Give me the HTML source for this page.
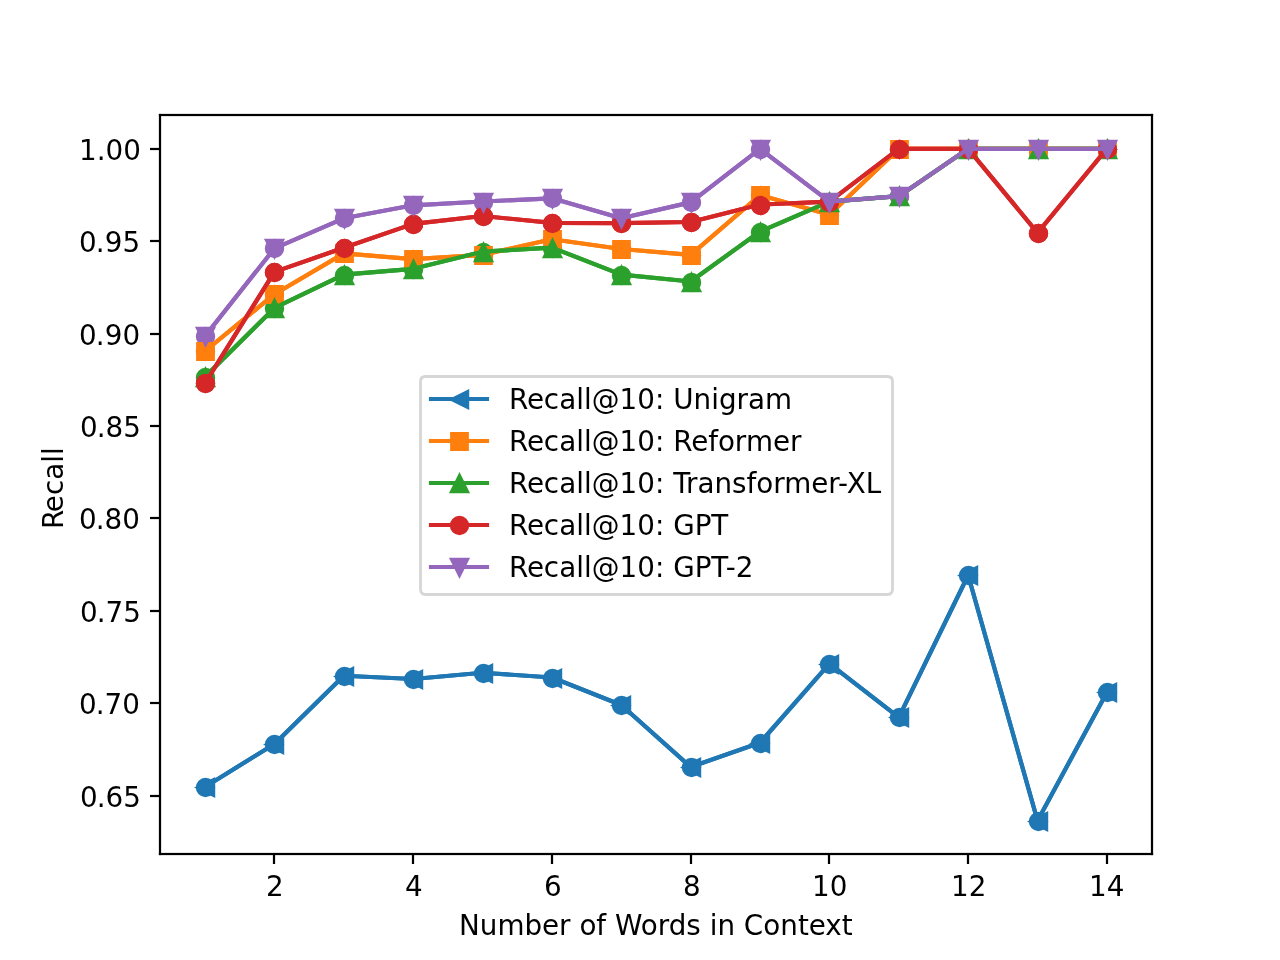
<!DOCTYPE html>
<html><head><meta charset="utf-8"><title>Recall vs Number of Words in Context</title>
<style>html,body{margin:0;padding:0;background:#fff;width:1280px;height:960px;overflow:hidden}svg{display:block}
svg text{font-family:"DejaVu Sans",sans-serif}</style></head>
<body>
<svg width="1280" height="960" viewBox="0 0 1280 960" version="1.1">
 
 <defs>
  <style type="text/css">*{stroke-linejoin: round; stroke-linecap: butt}</style>
 </defs>
 <g id="figure_1">
  <g id="patch_1">
   <path d="M 0 960 
L 1280 960 
L 1280 0 
L 0 0 
z
" style="fill: #ffffff"/>
  </g>
  <g id="axes_1">
   <g id="patch_2">
    <path d="M 160 854.4 
L 1152 854.4 
L 1152 115.2 
L 160 115.2 
z
" style="fill: #ffffff"/>
   </g>
   <g id="matplotlib.axis_1">
    <g id="xtick_1">
     <g id="line2d_1">
      <defs>
       <path id="mda93891a16" d="M 0 0 
L 0 10 
" style="stroke: #000000; stroke-width: 2.222222"/>
      </defs>
      <g>
       <use xlink:href="#mda93891a16" x="274" y="854" style="stroke: #000000; stroke-width: 2.222222"/>
      </g>
     </g>
     <g id="text_1">
      <text style="font-size: 27.777778px; font-family: 'DejaVu Sans', sans-serif; text-anchor: start" x="265.915" y="895.561" transform="rotate(-0 274.751 895.561)">2</text>
     </g>
    </g>
    <g id="xtick_2">
     <g id="line2d_2">
      <g>
       <use xlink:href="#mda93891a16" x="413" y="854" style="stroke: #000000; stroke-width: 2.222222"/>
      </g>
     </g>
     <g id="text_2">
      <text style="font-size: 27.777778px; font-family: 'DejaVu Sans', sans-serif; text-anchor: start" x="404.952" y="895.647" transform="rotate(-0 413.788 895.647)">4</text>
     </g>
    </g>
    <g id="xtick_3">
     <g id="line2d_3">
      <g>
       <use xlink:href="#mda93891a16" x="552" y="854" style="stroke: #000000; stroke-width: 2.222222"/>
      </g>
     </g>
     <g id="text_3">
      <text style="font-size: 27.777778px; font-family: 'DejaVu Sans', sans-serif; text-anchor: start" x="544.113" y="895.673" transform="rotate(-0 552.949 895.673)">6</text>
     </g>
    </g>
    <g id="xtick_4">
     <g id="line2d_4">
      <g>
       <use xlink:href="#mda93891a16" x="691" y="854" style="stroke: #000000; stroke-width: 2.222222"/>
      </g>
     </g>
     <g id="text_4">
      <text style="font-size: 27.777778px; font-family: 'DejaVu Sans', sans-serif; text-anchor: start" x="683.020" y="895.707" transform="rotate(-0 691.856 895.707)">8</text>
     </g>
    </g>
    <g id="xtick_5">
     <g id="line2d_5">
      <g>
       <use xlink:href="#mda93891a16" x="829" y="854" style="stroke: #000000; stroke-width: 2.222222"/>
      </g>
     </g>
     <g id="text_5">
      <text style="font-size: 27.777778px; font-family: 'DejaVu Sans', sans-serif; text-anchor: start" x="812.071 829.696" y="895.655" transform="rotate(-0 829.743 895.655)">10</text>
     </g>
    </g>
    <g id="xtick_6">
     <g id="line2d_6">
      <g>
       <use xlink:href="#mda93891a16" x="968" y="854" style="stroke: #000000; stroke-width: 2.222222"/>
      </g>
     </g>
     <g id="text_6">
      <text style="font-size: 27.777778px; font-family: 'DejaVu Sans', sans-serif; text-anchor: start" x="951.042 968.667" y="895.718" transform="rotate(-0 968.714 895.718)">12</text>
     </g>
    </g>
    <g id="xtick_7">
     <g id="line2d_7">
      <g>
       <use xlink:href="#mda93891a16" x="1107" y="854" style="stroke: #000000; stroke-width: 2.222222"/>
      </g>
     </g>
     <g id="text_7">
      <text style="font-size: 27.777778px; font-family: 'DejaVu Sans', sans-serif; text-anchor: start" x="1088.930 1106.805" y="895.632" transform="rotate(-0 1106.602 895.632)">14</text>
     </g>
    </g>
    <g id="text_8">
     <text style="font-size: 27.777778px; font-family: 'DejaVu Sans', sans-serif; text-anchor: start" x="458.939 479.689 497.564 524.439 542.064 559.064 570.564 579.439 596.314 606.064 614.939 640.814 657.689 668.689 686.314 700.814 709.689 717.439 735.064 743.689 763.314 780.189 798.064 808.689 825.189 841.814" y="934.707" transform="rotate(-0 655.705 934.707)">Number of Words in Context</text>
    </g>
   </g>
   <g id="matplotlib.axis_2">
    <g id="ytick_1">
     <g id="line2d_8">
      <defs>
       <path id="mc748a476c6" d="M 0 0 
L -10 0 
" style="stroke: #000000; stroke-width: 2.222222"/>
      </defs>
      <g>
       <use xlink:href="#mc748a476c6" x="160" y="796" style="stroke: #000000; stroke-width: 2.222222"/>
      </g>
     </g>
     <g id="text_9">
      <text style="font-size: 27.777778px; font-family: 'DejaVu Sans', sans-serif; text-anchor: start" x="79.900 96.650 105.525 123.150" y="806.744" transform="rotate(-0 141.228 806.494)">0.65</text>
     </g>
    </g>
    <g id="ytick_2">
     <g id="line2d_9">
      <g>
       <use xlink:href="#mc748a476c6" x="160" y="703" style="stroke: #000000; stroke-width: 2.222222"/>
      </g>
     </g>
     <g id="text_10">
      <text style="font-size: 27.777778px; font-family: 'DejaVu Sans', sans-serif; text-anchor: start" x="79.100 95.850 104.475 122.350" y="713.621" transform="rotate(-0 140.428 713.371)">0.70</text>
     </g>
    </g>
    <g id="ytick_3">
     <g id="line2d_10">
      <g>
       <use xlink:href="#mc748a476c6" x="160" y="611" style="stroke: #000000; stroke-width: 2.222222"/>
      </g>
     </g>
     <g id="text_11">
      <text style="font-size: 27.777778px; font-family: 'DejaVu Sans', sans-serif; text-anchor: start" x="80.123 96.873 105.498 123.373" y="621.512" transform="rotate(-0 141.451 621.512)">0.75</text>
     </g>
    </g>
    <g id="ytick_4">
     <g id="line2d_11">
      <g>
       <use xlink:href="#mc748a476c6" x="160" y="518" style="stroke: #000000; stroke-width: 2.222222"/>
      </g>
     </g>
     <g id="text_12">
      <text style="font-size: 27.777778px; font-family: 'DejaVu Sans', sans-serif; text-anchor: start" x="78.917 95.667 104.542 122.167" y="528.628" transform="rotate(-0 140.245 529.628)">0.80</text>
     </g>
    </g>
    <g id="ytick_5">
     <g id="line2d_12">
      <g>
       <use xlink:href="#mc748a476c6" x="160" y="426" style="stroke: #000000; stroke-width: 2.222222"/>
      </g>
     </g>
     <g id="text_13">
      <text style="font-size: 27.777778px; font-family: 'DejaVu Sans', sans-serif; text-anchor: start" x="79.932 96.682 105.557 123.182" y="436.548" transform="rotate(-0 141.260 436.548)">0.85</text>
     </g>
    </g>
    <g id="ytick_6">
     <g id="line2d_13">
      <g>
       <use xlink:href="#mc748a476c6" x="160" y="334" style="stroke: #000000; stroke-width: 2.222222"/>
      </g>
     </g>
     <g id="text_14">
      <text style="font-size: 27.777778px; font-family: 'DejaVu Sans', sans-serif; text-anchor: start" x="78.923 95.673 104.798 122.548" y="344.642" transform="rotate(-0 140.251 344.642)">0.90</text>
     </g>
    </g>
    <g id="ytick_7">
     <g id="line2d_14">
      <g>
       <use xlink:href="#mc748a476c6" x="160" y="241" style="stroke: #000000; stroke-width: 2.222222"/>
      </g>
     </g>
     <g id="text_15">
      <text style="font-size: 27.777778px; font-family: 'DejaVu Sans', sans-serif; text-anchor: start" x="78.973 95.723 104.848 122.598" y="251.544" transform="rotate(-0 140.301 251.544)">0.95</text>
     </g>
    </g>
    <g id="ytick_8">
     <g id="line2d_15">
      <g>
       <use xlink:href="#mc748a476c6" x="160" y="149" style="stroke: #000000; stroke-width: 2.222222"/>
      </g>
     </g>
     <g id="text_16">
      <text style="font-size: 27.777778px; font-family: 'DejaVu Sans', sans-serif; text-anchor: start" x="78.884 96.759 105.384 123.134" y="159.671" transform="rotate(-0 140.962 159.671)">1.00</text>
     </g>
    </g>
    <g id="text_17">
     <text style="font-size: 27.777778px; font-family: 'DejaVu Sans', sans-serif; text-anchor: start" x="22.089 38.839 56.089 71.339 88.339 96.089" y="488.473" transform="rotate(-90 62.511 488.473)">Recall</text>
    </g>
   </g>
   <g id="line2d_16">
    <path d="M 205.090909 786.9 
L 274.461538 743.9 
L 343.832168 675.75 
L 413.202797 679 
L 482.573427 672.75 
L 551.944056 677.5 
L 621.314685 705 
L 690.685315 767 
L 760.055944 742.75 
L 829.426573 663.6 
L 898.797203 717.415385 
L 968.167832 575.261538 
L 1037.538462 820.8 
L 1106.909091 692.329412 
" clip-path="url(#p3867d2c798)" style="fill: none; stroke: #1f77b4; stroke-width: 4.166667; stroke-linecap: square"/>
    <defs>
     <path id="m4bd4dce7f5" d="M 0 8.333333 
C 2.210026 8.333333 4.329832 7.455281 5.892557 5.892557 
C 7.455281 4.329832 8.333333 2.210026 8.333333 0 
C 8.333333 -2.210026 7.455281 -4.329832 5.892557 -5.892557 
C 4.329832 -7.455281 2.210026 -8.333333 0 -8.333333 
C -2.210026 -8.333333 -4.329832 -7.455281 -5.892557 -5.892557 
C -7.455281 -4.329832 -8.333333 -2.210026 -8.333333 0 
C -8.333333 2.210026 -7.455281 4.329832 -5.892557 5.892557 
C -4.329832 7.455281 -2.210026 8.333333 0 8.333333 
z
" style="stroke: #1f77b4; stroke-width: 2.777778"/>
    </defs>
    <g clip-path="url(#p3867d2c798)">
     <use xlink:href="#m4bd4dce7f5" x="205.5" y="787.5" style="fill: #1f77b4; stroke: #1f77b4; stroke-width: 2.777778"/>
     <use xlink:href="#m4bd4dce7f5" x="274.5" y="744.5" style="fill: #1f77b4; stroke: #1f77b4; stroke-width: 2.777778"/>
     <use xlink:href="#m4bd4dce7f5" x="344.5" y="676.5" style="fill: #1f77b4; stroke: #1f77b4; stroke-width: 2.777778"/>
     <use xlink:href="#m4bd4dce7f5" x="413.5" y="679.5" style="fill: #1f77b4; stroke: #1f77b4; stroke-width: 2.777778"/>
     <use xlink:href="#m4bd4dce7f5" x="483.5" y="673.5" style="fill: #1f77b4; stroke: #1f77b4; stroke-width: 2.777778"/>
     <use xlink:href="#m4bd4dce7f5" x="552.5" y="678.5" style="fill: #1f77b4; stroke: #1f77b4; stroke-width: 2.777778"/>
     <use xlink:href="#m4bd4dce7f5" x="621.5" y="705.5" style="fill: #1f77b4; stroke: #1f77b4; stroke-width: 2.777778"/>
     <use xlink:href="#m4bd4dce7f5" x="691.5" y="767.5" style="fill: #1f77b4; stroke: #1f77b4; stroke-width: 2.777778"/>
     <use xlink:href="#m4bd4dce7f5" x="760.5" y="743.5" style="fill: #1f77b4; stroke: #1f77b4; stroke-width: 2.777778"/>
     <use xlink:href="#m4bd4dce7f5" x="829.5" y="664.5" style="fill: #1f77b4; stroke: #1f77b4; stroke-width: 2.777778"/>
     <use xlink:href="#m4bd4dce7f5" x="899.5" y="717.5" style="fill: #1f77b4; stroke: #1f77b4; stroke-width: 2.777778"/>
     <use xlink:href="#m4bd4dce7f5" x="968.5" y="575.5" style="fill: #1f77b4; stroke: #1f77b4; stroke-width: 2.777778"/>
     <use xlink:href="#m4bd4dce7f5" x="1038.5" y="821.5" style="fill: #1f77b4; stroke: #1f77b4; stroke-width: 2.777778"/>
     <use xlink:href="#m4bd4dce7f5" x="1107.5" y="692.5" style="fill: #1f77b4; stroke: #1f77b4; stroke-width: 2.777778"/>
    </g>
   </g>
   <g id="line2d_17">
    <path d="M 205.090909 351 
L 274.461538 294.2 
L 343.832168 253.4 
L 413.202797 259.2 
L 482.573427 254.9 
L 551.944056 239.3 
L 621.314685 249 
L 690.685315 254.9 
L 760.055944 195.1 
L 829.426573 214.8 
L 898.797203 148.8 
L 968.167832 148.8 
L 1037.538462 148.8 
L 1106.909091 148.8 
" clip-path="url(#p3867d2c798)" style="fill: none; stroke: #ff7f0e; stroke-width: 4.166667; stroke-linecap: square"/>
    <defs>
     <path id="m36926915a3" d="M 0 8.333333 
C 2.210026 8.333333 4.329832 7.455281 5.892557 5.892557 
C 7.455281 4.329832 8.333333 2.210026 8.333333 0 
C 8.333333 -2.210026 7.455281 -4.329832 5.892557 -5.892557 
C 4.329832 -7.455281 2.210026 -8.333333 0 -8.333333 
C -2.210026 -8.333333 -4.329832 -7.455281 -5.892557 -5.892557 
C -7.455281 -4.329832 -8.333333 -2.210026 -8.333333 0 
C -8.333333 2.210026 -7.455281 4.329832 -5.892557 5.892557 
C -4.329832 7.455281 -2.210026 8.333333 0 8.333333 
z
" style="stroke: #ff7f0e; stroke-width: 2.777778"/>
    </defs>
    <g clip-path="url(#p3867d2c798)">
     <use xlink:href="#m36926915a3" x="205.5" y="351.5" style="fill: #ff7f0e; stroke: #ff7f0e; stroke-width: 2.777778"/>
     <use xlink:href="#m36926915a3" x="274.5" y="294.5" style="fill: #ff7f0e; stroke: #ff7f0e; stroke-width: 2.777778"/>
     <use xlink:href="#m36926915a3" x="344.5" y="253.5" style="fill: #ff7f0e; stroke: #ff7f0e; stroke-width: 2.777778"/>
     <use xlink:href="#m36926915a3" x="413.5" y="259.5" style="fill: #ff7f0e; stroke: #ff7f0e; stroke-width: 2.777778"/>
     <use xlink:href="#m36926915a3" x="483.5" y="255.5" style="fill: #ff7f0e; stroke: #ff7f0e; stroke-width: 2.777778"/>
     <use xlink:href="#m36926915a3" x="552.5" y="239.5" style="fill: #ff7f0e; stroke: #ff7f0e; stroke-width: 2.777778"/>
     <use xlink:href="#m36926915a3" x="621.5" y="249.5" style="fill: #ff7f0e; stroke: #ff7f0e; stroke-width: 2.777778"/>
     <use xlink:href="#m36926915a3" x="691.5" y="255.5" style="fill: #ff7f0e; stroke: #ff7f0e; stroke-width: 2.777778"/>
     <use xlink:href="#m36926915a3" x="760.5" y="195.5" style="fill: #ff7f0e; stroke: #ff7f0e; stroke-width: 2.777778"/>
     <use xlink:href="#m36926915a3" x="829.5" y="215.5" style="fill: #ff7f0e; stroke: #ff7f0e; stroke-width: 2.777778"/>
     <use xlink:href="#m36926915a3" x="899.5" y="149.5" style="fill: #ff7f0e; stroke: #ff7f0e; stroke-width: 2.777778"/>
     <use xlink:href="#m36926915a3" x="968.5" y="149.5" style="fill: #ff7f0e; stroke: #ff7f0e; stroke-width: 2.777778"/>
     <use xlink:href="#m36926915a3" x="1038.5" y="149.5" style="fill: #ff7f0e; stroke: #ff7f0e; stroke-width: 2.777778"/>
     <use xlink:href="#m36926915a3" x="1107.5" y="149.5" style="fill: #ff7f0e; stroke: #ff7f0e; stroke-width: 2.777778"/>
    </g>
   </g>
   <g id="line2d_18">
    <path d="M 205.090909 376.7 
L 274.461538 307.9 
L 343.832168 274.7 
L 413.202797 268.8 
L 482.573427 251.7 
L 551.944056 247.6 
L 621.314685 274.6 
L 690.685315 281.5 
L 760.055944 231.5 
L 829.426573 201.6 
L 898.797203 196.184615 
L 968.167832 148.8 
L 1037.538462 148.8 
L 1106.909091 148.8 
" clip-path="url(#p3867d2c798)" style="fill: none; stroke: #2ca02c; stroke-width: 4.166667; stroke-linecap: square"/>
    <defs>
     <path id="m9eff11485e" d="M 0 8.333333 
C 2.210026 8.333333 4.329832 7.455281 5.892557 5.892557 
C 7.455281 4.329832 8.333333 2.210026 8.333333 0 
C 8.333333 -2.210026 7.455281 -4.329832 5.892557 -5.892557 
C 4.329832 -7.455281 2.210026 -8.333333 0 -8.333333 
C -2.210026 -8.333333 -4.329832 -7.455281 -5.892557 -5.892557 
C -7.455281 -4.329832 -8.333333 -2.210026 -8.333333 0 
C -8.333333 2.210026 -7.455281 4.329832 -5.892557 5.892557 
C -4.329832 7.455281 -2.210026 8.333333 0 8.333333 
z
" style="stroke: #2ca02c; stroke-width: 2.777778"/>
    </defs>
    <g clip-path="url(#p3867d2c798)">
     <use xlink:href="#m9eff11485e" x="205.5" y="377.5" style="fill: #2ca02c; stroke: #2ca02c; stroke-width: 2.777778"/>
     <use xlink:href="#m9eff11485e" x="274.5" y="308.5" style="fill: #2ca02c; stroke: #2ca02c; stroke-width: 2.777778"/>
     <use xlink:href="#m9eff11485e" x="344.5" y="275.5" style="fill: #2ca02c; stroke: #2ca02c; stroke-width: 2.777778"/>
     <use xlink:href="#m9eff11485e" x="413.5" y="269.5" style="fill: #2ca02c; stroke: #2ca02c; stroke-width: 2.777778"/>
     <use xlink:href="#m9eff11485e" x="483.5" y="252.5" style="fill: #2ca02c; stroke: #2ca02c; stroke-width: 2.777778"/>
     <use xlink:href="#m9eff11485e" x="552.5" y="248.5" style="fill: #2ca02c; stroke: #2ca02c; stroke-width: 2.777778"/>
     <use xlink:href="#m9eff11485e" x="621.5" y="275.5" style="fill: #2ca02c; stroke: #2ca02c; stroke-width: 2.777778"/>
     <use xlink:href="#m9eff11485e" x="691.5" y="282.5" style="fill: #2ca02c; stroke: #2ca02c; stroke-width: 2.777778"/>
     <use xlink:href="#m9eff11485e" x="760.5" y="232.5" style="fill: #2ca02c; stroke: #2ca02c; stroke-width: 2.777778"/>
     <use xlink:href="#m9eff11485e" x="829.5" y="202.5" style="fill: #2ca02c; stroke: #2ca02c; stroke-width: 2.777778"/>
     <use xlink:href="#m9eff11485e" x="899.5" y="196.5" style="fill: #2ca02c; stroke: #2ca02c; stroke-width: 2.777778"/>
     <use xlink:href="#m9eff11485e" x="968.5" y="149.5" style="fill: #2ca02c; stroke: #2ca02c; stroke-width: 2.777778"/>
     <use xlink:href="#m9eff11485e" x="1038.5" y="149.5" style="fill: #2ca02c; stroke: #2ca02c; stroke-width: 2.777778"/>
     <use xlink:href="#m9eff11485e" x="1107.5" y="149.5" style="fill: #2ca02c; stroke: #2ca02c; stroke-width: 2.777778"/>
    </g>
   </g>
   <g id="line2d_19">
    <path d="M 205.090909 383.1 
L 274.461538 271.9 
L 343.832168 247.8 
L 413.202797 223.9 
L 482.573427 216 
L 551.944056 222.9 
L 621.314685 223.1 
L 690.685315 222 
L 760.055944 204.6 
L 829.426573 201.6 
L 898.797203 148.8 
L 968.167832 148.8 
L 1037.538462 232.8 
L 1106.909091 148.8 
" clip-path="url(#p3867d2c798)" style="fill: none; stroke: #d62728; stroke-width: 4.166667; stroke-linecap: square"/>
    <defs>
     <path id="me7751ea9da" d="M 0 8.333333 
C 2.210026 8.333333 4.329832 7.455281 5.892557 5.892557 
C 7.455281 4.329832 8.333333 2.210026 8.333333 0 
C 8.333333 -2.210026 7.455281 -4.329832 5.892557 -5.892557 
C 4.329832 -7.455281 2.210026 -8.333333 0 -8.333333 
C -2.210026 -8.333333 -4.329832 -7.455281 -5.892557 -5.892557 
C -7.455281 -4.329832 -8.333333 -2.210026 -8.333333 0 
C -8.333333 2.210026 -7.455281 4.329832 -5.892557 5.892557 
C -4.329832 7.455281 -2.210026 8.333333 0 8.333333 
z
" style="stroke: #d62728; stroke-width: 2.777778"/>
    </defs>
    <g clip-path="url(#p3867d2c798)">
     <use xlink:href="#me7751ea9da" x="205.5" y="383.5" style="fill: #d62728; stroke: #d62728; stroke-width: 2.777778"/>
     <use xlink:href="#me7751ea9da" x="274.5" y="272.5" style="fill: #d62728; stroke: #d62728; stroke-width: 2.777778"/>
     <use xlink:href="#me7751ea9da" x="344.5" y="248.5" style="fill: #d62728; stroke: #d62728; stroke-width: 2.777778"/>
     <use xlink:href="#me7751ea9da" x="413.5" y="224.5" style="fill: #d62728; stroke: #d62728; stroke-width: 2.777778"/>
     <use xlink:href="#me7751ea9da" x="483.5" y="216.5" style="fill: #d62728; stroke: #d62728; stroke-width: 2.777778"/>
     <use xlink:href="#me7751ea9da" x="552.5" y="223.5" style="fill: #d62728; stroke: #d62728; stroke-width: 2.777778"/>
     <use xlink:href="#me7751ea9da" x="621.5" y="223.5" style="fill: #d62728; stroke: #d62728; stroke-width: 2.777778"/>
     <use xlink:href="#me7751ea9da" x="691.5" y="222.5" style="fill: #d62728; stroke: #d62728; stroke-width: 2.777778"/>
     <use xlink:href="#me7751ea9da" x="760.5" y="205.5" style="fill: #d62728; stroke: #d62728; stroke-width: 2.777778"/>
     <use xlink:href="#me7751ea9da" x="829.5" y="202.5" style="fill: #d62728; stroke: #d62728; stroke-width: 2.777778"/>
     <use xlink:href="#me7751ea9da" x="899.5" y="149.5" style="fill: #d62728; stroke: #d62728; stroke-width: 2.777778"/>
     <use xlink:href="#me7751ea9da" x="968.5" y="149.5" style="fill: #d62728; stroke: #d62728; stroke-width: 2.777778"/>
     <use xlink:href="#me7751ea9da" x="1038.5" y="233.5" style="fill: #d62728; stroke: #d62728; stroke-width: 2.777778"/>
     <use xlink:href="#me7751ea9da" x="1107.5" y="149.5" style="fill: #d62728; stroke: #d62728; stroke-width: 2.777778"/>
    </g>
   </g>
   <g id="line2d_20">
    <path d="M 205.090909 336 
L 274.461538 248.4 
L 343.832168 218.3 
L 413.202797 205.3 
L 482.573427 201.5 
L 551.944056 198.3 
L 621.314685 218.3 
L 690.685315 202.4 
L 760.055944 148.8 
L 829.426573 201.6 
L 898.797203 196.184615 
L 968.167832 148.8 
L 1037.538462 148.8 
L 1106.909091 148.8 
" clip-path="url(#p3867d2c798)" style="fill: none; stroke: #9467bd; stroke-width: 4.166667; stroke-linecap: square"/>
    <defs>
     <path id="mf4725f7b0e" d="M 0 8.333333 
C 2.210026 8.333333 4.329832 7.455281 5.892557 5.892557 
C 7.455281 4.329832 8.333333 2.210026 8.333333 0 
C 8.333333 -2.210026 7.455281 -4.329832 5.892557 -5.892557 
C 4.329832 -7.455281 2.210026 -8.333333 0 -8.333333 
C -2.210026 -8.333333 -4.329832 -7.455281 -5.892557 -5.892557 
C -7.455281 -4.329832 -8.333333 -2.210026 -8.333333 0 
C -8.333333 2.210026 -7.455281 4.329832 -5.892557 5.892557 
C -4.329832 7.455281 -2.210026 8.333333 0 8.333333 
z
" style="stroke: #9467bd; stroke-width: 2.777778"/>
    </defs>
    <g clip-path="url(#p3867d2c798)">
     <use xlink:href="#mf4725f7b0e" x="205.5" y="336.5" style="fill: #9467bd; stroke: #9467bd; stroke-width: 2.777778"/>
     <use xlink:href="#mf4725f7b0e" x="274.5" y="248.5" style="fill: #9467bd; stroke: #9467bd; stroke-width: 2.777778"/>
     <use xlink:href="#mf4725f7b0e" x="344.5" y="218.5" style="fill: #9467bd; stroke: #9467bd; stroke-width: 2.777778"/>
     <use xlink:href="#mf4725f7b0e" x="413.5" y="205.5" style="fill: #9467bd; stroke: #9467bd; stroke-width: 2.777778"/>
     <use xlink:href="#mf4725f7b0e" x="483.5" y="202.5" style="fill: #9467bd; stroke: #9467bd; stroke-width: 2.777778"/>
     <use xlink:href="#mf4725f7b0e" x="552.5" y="198.5" style="fill: #9467bd; stroke: #9467bd; stroke-width: 2.777778"/>
     <use xlink:href="#mf4725f7b0e" x="621.5" y="218.5" style="fill: #9467bd; stroke: #9467bd; stroke-width: 2.777778"/>
     <use xlink:href="#mf4725f7b0e" x="691.5" y="202.5" style="fill: #9467bd; stroke: #9467bd; stroke-width: 2.777778"/>
     <use xlink:href="#mf4725f7b0e" x="760.5" y="149.5" style="fill: #9467bd; stroke: #9467bd; stroke-width: 2.777778"/>
     <use xlink:href="#mf4725f7b0e" x="829.5" y="202.5" style="fill: #9467bd; stroke: #9467bd; stroke-width: 2.777778"/>
     <use xlink:href="#mf4725f7b0e" x="899.5" y="196.5" style="fill: #9467bd; stroke: #9467bd; stroke-width: 2.777778"/>
     <use xlink:href="#mf4725f7b0e" x="968.5" y="149.5" style="fill: #9467bd; stroke: #9467bd; stroke-width: 2.777778"/>
     <use xlink:href="#mf4725f7b0e" x="1038.5" y="149.5" style="fill: #9467bd; stroke: #9467bd; stroke-width: 2.777778"/>
     <use xlink:href="#mf4725f7b0e" x="1107.5" y="149.5" style="fill: #9467bd; stroke: #9467bd; stroke-width: 2.777778"/>
    </g>
   </g>
   <g id="line2d_21">
    <path d="M 205.090909 786.9 
L 274.461538 743.9 
L 343.832168 675.75 
L 413.202797 679 
L 482.573427 672.75 
L 551.944056 677.5 
L 621.314685 705 
L 690.685315 767 
L 760.055944 742.75 
L 829.426573 663.6 
L 898.797203 717.415385 
L 968.167832 575.261538 
L 1037.538462 820.8 
L 1106.909091 692.329412 
" clip-path="url(#p3867d2c798)" style="fill: none; stroke: #1f77b4; stroke-width: 4.166667; stroke-linecap: square"/>
    <defs>
     <path id="mda453e0392" d="M -8.333333 -0 
L 8.333333 8.333333 
L 8.333333 -8.333333 
z
" style="stroke: #1f77b4; stroke-width: 2.777778; stroke-linejoin: miter"/>
    </defs>
    <g clip-path="url(#p3867d2c798)">
     <use xlink:href="#mda453e0392" x="205.5" y="787.5" style="fill: #1f77b4; stroke: #1f77b4; stroke-width: 2.777778; stroke-linejoin: miter"/>
     <use xlink:href="#mda453e0392" x="274.5" y="744.5" style="fill: #1f77b4; stroke: #1f77b4; stroke-width: 2.777778; stroke-linejoin: miter"/>
     <use xlink:href="#mda453e0392" x="344.5" y="676.5" style="fill: #1f77b4; stroke: #1f77b4; stroke-width: 2.777778; stroke-linejoin: miter"/>
     <use xlink:href="#mda453e0392" x="413.5" y="679.5" style="fill: #1f77b4; stroke: #1f77b4; stroke-width: 2.777778; stroke-linejoin: miter"/>
     <use xlink:href="#mda453e0392" x="483.5" y="673.5" style="fill: #1f77b4; stroke: #1f77b4; stroke-width: 2.777778; stroke-linejoin: miter"/>
     <use xlink:href="#mda453e0392" x="552.5" y="678.5" style="fill: #1f77b4; stroke: #1f77b4; stroke-width: 2.777778; stroke-linejoin: miter"/>
     <use xlink:href="#mda453e0392" x="621.5" y="705.5" style="fill: #1f77b4; stroke: #1f77b4; stroke-width: 2.777778; stroke-linejoin: miter"/>
     <use xlink:href="#mda453e0392" x="691.5" y="767.5" style="fill: #1f77b4; stroke: #1f77b4; stroke-width: 2.777778; stroke-linejoin: miter"/>
     <use xlink:href="#mda453e0392" x="760.5" y="743.5" style="fill: #1f77b4; stroke: #1f77b4; stroke-width: 2.777778; stroke-linejoin: miter"/>
     <use xlink:href="#mda453e0392" x="829.5" y="664.5" style="fill: #1f77b4; stroke: #1f77b4; stroke-width: 2.777778; stroke-linejoin: miter"/>
     <use xlink:href="#mda453e0392" x="899.5" y="717.5" style="fill: #1f77b4; stroke: #1f77b4; stroke-width: 2.777778; stroke-linejoin: miter"/>
     <use xlink:href="#mda453e0392" x="968.5" y="575.5" style="fill: #1f77b4; stroke: #1f77b4; stroke-width: 2.777778; stroke-linejoin: miter"/>
     <use xlink:href="#mda453e0392" x="1038.5" y="821.5" style="fill: #1f77b4; stroke: #1f77b4; stroke-width: 2.777778; stroke-linejoin: miter"/>
     <use xlink:href="#mda453e0392" x="1107.5" y="692.5" style="fill: #1f77b4; stroke: #1f77b4; stroke-width: 2.777778; stroke-linejoin: miter"/>
    </g>
   </g>
   <g id="line2d_22">
    <path d="M 205.090909 351 
L 274.461538 294.2 
L 343.832168 253.4 
L 413.202797 259.2 
L 482.573427 254.9 
L 551.944056 239.3 
L 621.314685 249 
L 690.685315 254.9 
L 760.055944 195.1 
L 829.426573 214.8 
L 898.797203 148.8 
L 968.167832 148.8 
L 1037.538462 148.8 
L 1106.909091 148.8 
" clip-path="url(#p3867d2c798)" style="fill: none; stroke: #ff7f0e; stroke-width: 4.166667; stroke-linecap: square"/>
    <defs>
     <path id="mf6c7ca60a6" d="M -8 8 
L 8 8 
L 8 -8 
L -8 -8 
z
" style="stroke: #ff7f0e; stroke-width: 2.777778; stroke-linejoin: miter"/>
    </defs>
    <g clip-path="url(#p3867d2c798)">
     <use xlink:href="#mf6c7ca60a6" x="205.5" y="351.5" style="fill: #ff7f0e; stroke: #ff7f0e; stroke-width: 2.777778; stroke-linejoin: miter"/>
     <use xlink:href="#mf6c7ca60a6" x="274.5" y="294.5" style="fill: #ff7f0e; stroke: #ff7f0e; stroke-width: 2.777778; stroke-linejoin: miter"/>
     <use xlink:href="#mf6c7ca60a6" x="344.5" y="253.5" style="fill: #ff7f0e; stroke: #ff7f0e; stroke-width: 2.777778; stroke-linejoin: miter"/>
     <use xlink:href="#mf6c7ca60a6" x="413.5" y="259.5" style="fill: #ff7f0e; stroke: #ff7f0e; stroke-width: 2.777778; stroke-linejoin: miter"/>
     <use xlink:href="#mf6c7ca60a6" x="483.5" y="255.5" style="fill: #ff7f0e; stroke: #ff7f0e; stroke-width: 2.777778; stroke-linejoin: miter"/>
     <use xlink:href="#mf6c7ca60a6" x="552.5" y="239.5" style="fill: #ff7f0e; stroke: #ff7f0e; stroke-width: 2.777778; stroke-linejoin: miter"/>
     <use xlink:href="#mf6c7ca60a6" x="621.5" y="249.5" style="fill: #ff7f0e; stroke: #ff7f0e; stroke-width: 2.777778; stroke-linejoin: miter"/>
     <use xlink:href="#mf6c7ca60a6" x="691.5" y="255.5" style="fill: #ff7f0e; stroke: #ff7f0e; stroke-width: 2.777778; stroke-linejoin: miter"/>
     <use xlink:href="#mf6c7ca60a6" x="760.5" y="195.5" style="fill: #ff7f0e; stroke: #ff7f0e; stroke-width: 2.777778; stroke-linejoin: miter"/>
     <use xlink:href="#mf6c7ca60a6" x="829.5" y="215.5" style="fill: #ff7f0e; stroke: #ff7f0e; stroke-width: 2.777778; stroke-linejoin: miter"/>
     <use xlink:href="#mf6c7ca60a6" x="899.5" y="149.5" style="fill: #ff7f0e; stroke: #ff7f0e; stroke-width: 2.777778; stroke-linejoin: miter"/>
     <use xlink:href="#mf6c7ca60a6" x="968.5" y="149.5" style="fill: #ff7f0e; stroke: #ff7f0e; stroke-width: 2.777778; stroke-linejoin: miter"/>
     <use xlink:href="#mf6c7ca60a6" x="1038.5" y="149.5" style="fill: #ff7f0e; stroke: #ff7f0e; stroke-width: 2.777778; stroke-linejoin: miter"/>
     <use xlink:href="#mf6c7ca60a6" x="1107.5" y="149.5" style="fill: #ff7f0e; stroke: #ff7f0e; stroke-width: 2.777778; stroke-linejoin: miter"/>
    </g>
   </g>
   <g id="line2d_23">
    <path d="M 205.090909 376.7 
L 274.461538 307.9 
L 343.832168 274.7 
L 413.202797 268.8 
L 482.573427 251.7 
L 551.944056 247.6 
L 621.314685 274.6 
L 690.685315 281.5 
L 760.055944 231.5 
L 829.426573 201.6 
L 898.797203 196.184615 
L 968.167832 148.8 
L 1037.538462 148.8 
L 1106.909091 148.8 
" clip-path="url(#p3867d2c798)" style="fill: none; stroke: #2ca02c; stroke-width: 4.166667; stroke-linecap: square"/>
    <defs>
     <path id="m3c626ffc4a" d="M 0 -8.333333 
L -8.333333 8.333333 
L 8.333333 8.333333 
z
" style="stroke: #2ca02c; stroke-width: 2.777778; stroke-linejoin: miter"/>
    </defs>
    <g clip-path="url(#p3867d2c798)">
     <use xlink:href="#m3c626ffc4a" x="205.5" y="377.5" style="fill: #2ca02c; stroke: #2ca02c; stroke-width: 2.777778; stroke-linejoin: miter"/>
     <use xlink:href="#m3c626ffc4a" x="274.5" y="308.5" style="fill: #2ca02c; stroke: #2ca02c; stroke-width: 2.777778; stroke-linejoin: miter"/>
     <use xlink:href="#m3c626ffc4a" x="344.5" y="275.5" style="fill: #2ca02c; stroke: #2ca02c; stroke-width: 2.777778; stroke-linejoin: miter"/>
     <use xlink:href="#m3c626ffc4a" x="413.5" y="269.5" style="fill: #2ca02c; stroke: #2ca02c; stroke-width: 2.777778; stroke-linejoin: miter"/>
     <use xlink:href="#m3c626ffc4a" x="483.5" y="252.5" style="fill: #2ca02c; stroke: #2ca02c; stroke-width: 2.777778; stroke-linejoin: miter"/>
     <use xlink:href="#m3c626ffc4a" x="552.5" y="248.5" style="fill: #2ca02c; stroke: #2ca02c; stroke-width: 2.777778; stroke-linejoin: miter"/>
     <use xlink:href="#m3c626ffc4a" x="621.5" y="275.5" style="fill: #2ca02c; stroke: #2ca02c; stroke-width: 2.777778; stroke-linejoin: miter"/>
     <use xlink:href="#m3c626ffc4a" x="691.5" y="282.5" style="fill: #2ca02c; stroke: #2ca02c; stroke-width: 2.777778; stroke-linejoin: miter"/>
     <use xlink:href="#m3c626ffc4a" x="760.5" y="232.5" style="fill: #2ca02c; stroke: #2ca02c; stroke-width: 2.777778; stroke-linejoin: miter"/>
     <use xlink:href="#m3c626ffc4a" x="829.5" y="202.5" style="fill: #2ca02c; stroke: #2ca02c; stroke-width: 2.777778; stroke-linejoin: miter"/>
     <use xlink:href="#m3c626ffc4a" x="899.5" y="196.5" style="fill: #2ca02c; stroke: #2ca02c; stroke-width: 2.777778; stroke-linejoin: miter"/>
     <use xlink:href="#m3c626ffc4a" x="968.5" y="149.5" style="fill: #2ca02c; stroke: #2ca02c; stroke-width: 2.777778; stroke-linejoin: miter"/>
     <use xlink:href="#m3c626ffc4a" x="1038.5" y="149.5" style="fill: #2ca02c; stroke: #2ca02c; stroke-width: 2.777778; stroke-linejoin: miter"/>
     <use xlink:href="#m3c626ffc4a" x="1107.5" y="149.5" style="fill: #2ca02c; stroke: #2ca02c; stroke-width: 2.777778; stroke-linejoin: miter"/>
    </g>
   </g>
   <g id="line2d_24">
    <path d="M 205.090909 383.1 
L 274.461538 271.9 
L 343.832168 247.8 
L 413.202797 223.9 
L 482.573427 216 
L 551.944056 222.9 
L 621.314685 223.1 
L 690.685315 222 
L 760.055944 204.6 
L 829.426573 201.6 
L 898.797203 148.8 
L 968.167832 148.8 
L 1037.538462 232.8 
L 1106.909091 148.8 
" clip-path="url(#p3867d2c798)" style="fill: none; stroke: #d62728; stroke-width: 4.166667; stroke-linecap: square"/>
    <g clip-path="url(#p3867d2c798)">
     <use xlink:href="#me7751ea9da" x="205.5" y="383.5" style="fill: #d62728; stroke: #d62728; stroke-width: 2.777778"/>
     <use xlink:href="#me7751ea9da" x="274.5" y="272.5" style="fill: #d62728; stroke: #d62728; stroke-width: 2.777778"/>
     <use xlink:href="#me7751ea9da" x="344.5" y="248.5" style="fill: #d62728; stroke: #d62728; stroke-width: 2.777778"/>
     <use xlink:href="#me7751ea9da" x="413.5" y="224.5" style="fill: #d62728; stroke: #d62728; stroke-width: 2.777778"/>
     <use xlink:href="#me7751ea9da" x="483.5" y="216.5" style="fill: #d62728; stroke: #d62728; stroke-width: 2.777778"/>
     <use xlink:href="#me7751ea9da" x="552.5" y="223.5" style="fill: #d62728; stroke: #d62728; stroke-width: 2.777778"/>
     <use xlink:href="#me7751ea9da" x="621.5" y="223.5" style="fill: #d62728; stroke: #d62728; stroke-width: 2.777778"/>
     <use xlink:href="#me7751ea9da" x="691.5" y="222.5" style="fill: #d62728; stroke: #d62728; stroke-width: 2.777778"/>
     <use xlink:href="#me7751ea9da" x="760.5" y="205.5" style="fill: #d62728; stroke: #d62728; stroke-width: 2.777778"/>
     <use xlink:href="#me7751ea9da" x="829.5" y="202.5" style="fill: #d62728; stroke: #d62728; stroke-width: 2.777778"/>
     <use xlink:href="#me7751ea9da" x="899.5" y="149.5" style="fill: #d62728; stroke: #d62728; stroke-width: 2.777778"/>
     <use xlink:href="#me7751ea9da" x="968.5" y="149.5" style="fill: #d62728; stroke: #d62728; stroke-width: 2.777778"/>
     <use xlink:href="#me7751ea9da" x="1038.5" y="233.5" style="fill: #d62728; stroke: #d62728; stroke-width: 2.777778"/>
     <use xlink:href="#me7751ea9da" x="1107.5" y="149.5" style="fill: #d62728; stroke: #d62728; stroke-width: 2.777778"/>
    </g>
   </g>
   <g id="line2d_25">
    <path d="M 205.090909 336 
L 274.461538 248.4 
L 343.832168 218.3 
L 413.202797 205.3 
L 482.573427 201.5 
L 551.944056 198.3 
L 621.314685 218.3 
L 690.685315 202.4 
L 760.055944 148.8 
L 829.426573 201.6 
L 898.797203 196.184615 
L 968.167832 148.8 
L 1037.538462 148.8 
L 1106.909091 148.8 
" clip-path="url(#p3867d2c798)" style="fill: none; stroke: #9467bd; stroke-width: 4.166667; stroke-linecap: square"/>
    <defs>
     <path id="m3a2e30d4c6" d="M -0 8.333333 
L 8.333333 -8.333333 
L -8.333333 -8.333333 
z
" style="stroke: #9467bd; stroke-width: 2.777778; stroke-linejoin: miter"/>
    </defs>
    <g clip-path="url(#p3867d2c798)">
     <use xlink:href="#m3a2e30d4c6" x="205.5" y="336.5" style="fill: #9467bd; stroke: #9467bd; stroke-width: 2.777778; stroke-linejoin: miter"/>
     <use xlink:href="#m3a2e30d4c6" x="274.5" y="248.5" style="fill: #9467bd; stroke: #9467bd; stroke-width: 2.777778; stroke-linejoin: miter"/>
     <use xlink:href="#m3a2e30d4c6" x="344.5" y="218.5" style="fill: #9467bd; stroke: #9467bd; stroke-width: 2.777778; stroke-linejoin: miter"/>
     <use xlink:href="#m3a2e30d4c6" x="413.5" y="205.5" style="fill: #9467bd; stroke: #9467bd; stroke-width: 2.777778; stroke-linejoin: miter"/>
     <use xlink:href="#m3a2e30d4c6" x="483.5" y="202.5" style="fill: #9467bd; stroke: #9467bd; stroke-width: 2.777778; stroke-linejoin: miter"/>
     <use xlink:href="#m3a2e30d4c6" x="552.5" y="198.5" style="fill: #9467bd; stroke: #9467bd; stroke-width: 2.777778; stroke-linejoin: miter"/>
     <use xlink:href="#m3a2e30d4c6" x="621.5" y="218.5" style="fill: #9467bd; stroke: #9467bd; stroke-width: 2.777778; stroke-linejoin: miter"/>
     <use xlink:href="#m3a2e30d4c6" x="691.5" y="202.5" style="fill: #9467bd; stroke: #9467bd; stroke-width: 2.777778; stroke-linejoin: miter"/>
     <use xlink:href="#m3a2e30d4c6" x="760.5" y="149.5" style="fill: #9467bd; stroke: #9467bd; stroke-width: 2.777778; stroke-linejoin: miter"/>
     <use xlink:href="#m3a2e30d4c6" x="829.5" y="202.5" style="fill: #9467bd; stroke: #9467bd; stroke-width: 2.777778; stroke-linejoin: miter"/>
     <use xlink:href="#m3a2e30d4c6" x="899.5" y="196.5" style="fill: #9467bd; stroke: #9467bd; stroke-width: 2.777778; stroke-linejoin: miter"/>
     <use xlink:href="#m3a2e30d4c6" x="968.5" y="149.5" style="fill: #9467bd; stroke: #9467bd; stroke-width: 2.777778; stroke-linejoin: miter"/>
     <use xlink:href="#m3a2e30d4c6" x="1038.5" y="149.5" style="fill: #9467bd; stroke: #9467bd; stroke-width: 2.777778; stroke-linejoin: miter"/>
     <use xlink:href="#m3a2e30d4c6" x="1107.5" y="149.5" style="fill: #9467bd; stroke: #9467bd; stroke-width: 2.777778; stroke-linejoin: miter"/>
    </g>
   </g>
   <g id="patch_3">
    <rect x="158.889" y="113.889" width="2.222" height="741.222" style="fill: #000000"/>
   </g>
   <g id="patch_4">
    <rect x="1150.889" y="113.889" width="2.222" height="741.222" style="fill: #000000"/>
   </g>
   <g id="patch_5">
    <rect x="158.889" y="852.889" width="994.222" height="2.222" style="fill: #000000"/>
   </g>
   <g id="patch_6">
    <rect x="158.889" y="113.889" width="994.222" height="2.222" style="fill: #000000"/>
   </g>
   <g id="legend_1">
    <g id="patch_7">
     <path d="M 425.5 594.5 
L 887.5 594.5 
Q 892.5 594.5 892.5 588.5 
L 892.5 381.5 
Q 892.5 376.5 887.5 376.5 
L 425.5 376.5 
Q 420.5 376.5 420.5 381.5 
L 420.5 588.5 
Q 420.5 594.5 425.5 594.5 
z
" style="fill: #ffffff; opacity: 0.8; stroke: #cccccc; stroke-width: 2.777778; stroke-linejoin: miter"/>
    </g>
    <g id="line2d_26">
     <path d="M 431 399 
L 459 399 
L 487 399 
" style="fill: none; stroke: #1f77b4; stroke-width: 4.166667; stroke-linecap: square"/>
     <g>
      <use xlink:href="#mda453e0392" x="459.5" y="399.5" style="fill: #1f77b4; stroke: #1f77b4; stroke-width: 2.777778; stroke-linejoin: miter"/>
     </g>
    </g>
    <g id="text_18">
     <text style="font-size: 27.777778px; font-family: 'DejaVu Sans', sans-serif; text-anchor: start" x="508.926 526.926 543.676 559.176 576.176 583.926 591.676 619.551 637.176 654.926 664.301 673.176 693.426 711.301 719.051 736.426 747.926 764.926" y="408.531" transform="rotate(-0 508.926 408.531)">Recall@10: Unigram</text>
    </g>
    <g id="line2d_27">
     <path d="M 431 441 
L 459 441 
L 487 441 
" style="fill: none; stroke: #ff7f0e; stroke-width: 4.166667; stroke-linecap: square"/>
     <g>
      <use xlink:href="#mf6c7ca60a6" x="459.5" y="441.5" style="fill: #ff7f0e; stroke: #ff7f0e; stroke-width: 2.777778; stroke-linejoin: miter"/>
     </g>
    </g>
    <g id="text_19">
     <text style="font-size: 27.777778px; font-family: 'DejaVu Sans', sans-serif; text-anchor: start" x="508.999 526.999 543.749 559.249 576.249 583.999 591.749 619.624 637.249 654.999 664.374 673.249 691.249 708.249 717.999 734.874 746.124 772.999 789.999" y="450.651" transform="rotate(-0 508.999 450.651)">Recall@10: Reformer</text>
    </g>
    <g id="line2d_28">
     <path d="M 431 483 
L 459 483 
L 487 483 
" style="fill: none; stroke: #2ca02c; stroke-width: 4.166667; stroke-linecap: square"/>
     <g>
      <use xlink:href="#m3c626ffc4a" x="459.5" y="483.5" style="fill: #2ca02c; stroke: #2ca02c; stroke-width: 2.777778; stroke-linejoin: miter"/>
     </g>
    </g>
    <g id="text_20">
     <text style="font-size: 27.777778px; font-family: 'DejaVu Sans', sans-serif; text-anchor: start" x="509.031 527.031 543.781 559.281 576.281 584.031 591.781 619.406 637.281 655.031 664.406 673.281 686.031 697.531 714.531 731.906 746.406 756.156 773.281 784.281 811.156 828.156 837.906 846.781 865.781" y="492.621" transform="rotate(-0 509.031 492.621)">Recall@10: Transformer-XL</text>
    </g>
    <g id="line2d_29">
     <path d="M 431 525 
L 459 525 
L 487 525 
" style="fill: none; stroke: #d62728; stroke-width: 4.166667; stroke-linecap: square"/>
     <g>
      <use xlink:href="#me7751ea9da" x="459.5" y="525.5" style="fill: #d62728; stroke: #d62728; stroke-width: 2.777778"/>
     </g>
    </g>
    <g id="text_21">
     <text style="font-size: 27.777778px; font-family: 'DejaVu Sans', sans-serif; text-anchor: start" x="509.036 527.036 543.786 559.286 576.286 584.036 591.786 619.411 637.286 655.036 664.411 673.286 694.661 711.161" y="534.597" transform="rotate(-0 509.036 534.597)">Recall@10: GPT</text>
    </g>
    <g id="line2d_30">
     <path d="M 431 567 
L 459 567 
L 487 567 
" style="fill: none; stroke: #9467bd; stroke-width: 4.166667; stroke-linecap: square"/>
     <g>
      <use xlink:href="#m3a2e30d4c6" x="459.5" y="567.5" style="fill: #9467bd; stroke: #9467bd; stroke-width: 2.777778; stroke-linejoin: miter"/>
     </g>
    </g>
    <g id="text_22">
     <text style="font-size: 27.777778px; font-family: 'DejaVu Sans', sans-serif; text-anchor: start" x="509.094 527.094 543.844 559.344 576.344 584.094 591.844 619.469 637.344 655.094 664.469 673.344 694.719 711.219 725.844 735.844" y="576.739" transform="rotate(-0 508.844 576.739)">Recall@10: GPT-2</text>
    </g>
   </g>
  </g>
 </g>
 <defs>
  <clipPath id="p3867d2c798">
   <rect x="160" y="115.2" width="992" height="739.2"/>
  </clipPath>
 </defs>
</svg>

</body></html>
